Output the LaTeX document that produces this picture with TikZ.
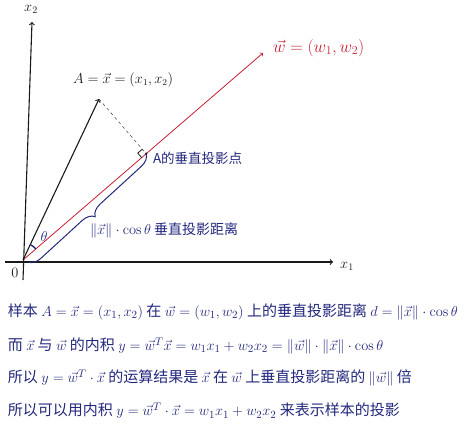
\documentclass[tikz,border=0pt]{standalone}
\usepackage[no-math]{fontspec}
\setmainfont{Noto Sans CJK SC}
\newcommand*{\inkfont}{\fontsize{15}{17}\selectfont}
\newcommand*{\labelfont}{\fontsize{13.5}{15}\selectfont}
\definecolor{ink}{RGB}{35,40,125}
\definecolor{redink}{RGB}{200,30,50}
\definecolor{pencil}{RGB}{25,25,25}
\usepackage{tikz}
\usetikzlibrary{arrows}
\usetikzlibrary{calc}
\usetikzlibrary{decorations.pathreplacing}
\tikzstyle{base}=[x=1pt, y=-1pt, inner sep=0pt, outer sep=0pt]
\tikzstyle{axis}=[pencil, line width=1.1pt, ->, >=to]
\tikzstyle{vec}=[pencil, line width=1.1pt, ->, >=to]
\tikzstyle{redvec}=[redink, line width=0.8pt, ->, >=to]
\tikzstyle{note}=[ink, anchor=west]
\begin{document}
\begin{tikzpicture}[base]
    \labelfont
        \useasboundingbox (0,0) rectangle (474,430);
        \coordinate (O) at (23,260);
        \coordinate (A) at (99,99);
        \coordinate (W) at (263,53);
        \coordinate (P) at ($(O)!(A)!(W)$);
        \coordinate (xstart) at (5,262);
        \coordinate (xtip) at (333,262);
        \coordinate (ystart) at (23,280);
        \coordinate (ytip) at (32,22);
        \draw [axis] (xstart) -- (xtip);
        \draw [axis] (ystart) -- (ytip);
        \node [pencil] (origin) at (15,273) {$0$};
        \node [pencil, font=\fontsize{14}{16}\selectfont] (xone) at (347,266) {$x_1$};
        \node [pencil, font=\fontsize{14}{16}\selectfont] (xtwo) at (31,9) {$x_2$};
        \draw [redvec] (O) -- (W);
        \draw [vec] (O) -- (A);
        \draw [pencil, dashed] (A) -- (P);
        \coordinate (Pa) at ($(P)!6pt!(O)$);
        \coordinate (Pb) at ($(P)!6pt!(A)$);
        \draw [pencil, line width=0.8pt] (Pa) -- ($(Pa)+(Pb)-(P)$) -- (Pb);
        \fill [pencil] (P) circle (1.3pt);
        \draw [ink, line width=1pt, decorate, decoration={brace, amplitude=12pt, mirror}] ($(O)+(5,2)$) -- (P);
        \draw [ink, line width=1.4pt] ($(O)!17pt!(W)$) arc [start angle=-40.8, end angle=-64.7, radius=17];
        \node [ink] (theta) at (44,237) {$\theta$};
        \node [pencil, anchor=west] (Alabel) at (73,80) {$A=\vec{x}=(x_1,x_2)$};
        \node [redink, anchor=west, font=\fontsize{17}{19}\selectfont] (wlabel) at (273,48) {$\vec{w}=(w_1,w_2)$};
        \node [note, font=\fontsize{13.5}{15}\selectfont] (Plabel) at (153,158) {A的垂直投影点};
        \node [note, font=\fontsize{14}{16}\selectfont] (dlabel) at (90,230) {$\|\vec{x}\|\cdot\cos\theta$ 垂直投影距离};
        \inkfont
        \node [note] (lineone) at (8,312) {样本 $A=\vec{x}=(x_1,x_2)$ 在 $\vec{w}=(w_1,w_2)$ 上的垂直投影距离 $d=\|\vec{x}\|\cdot\cos\theta$};
        \node [note] (linetwo) at (8,346) {而 $\vec{x}$ 与 $\vec{w}$ 的内积 $y=\vec{w}^{T}\vec{x}=w_1x_1+w_2x_2=\|\vec{w}\|\cdot\|\vec{x}\|\cdot\cos\theta$};
        \node [note] (linethree) at (8,378) {所以 $y=\vec{w}^{T}\cdot\vec{x}$ 的运算结果是 $\vec{x}$ 在 $\vec{w}$ 上垂直投影距离的 $\|\vec{w}\|$ 倍};
        \node [note] (linefour) at (8,411) {所以可以用内积 $y=\vec{w}^{T}\cdot\vec{x}=w_1x_1+w_2x_2$ 来表示样本的投影};
    \end{tikzpicture}
\end{document}
